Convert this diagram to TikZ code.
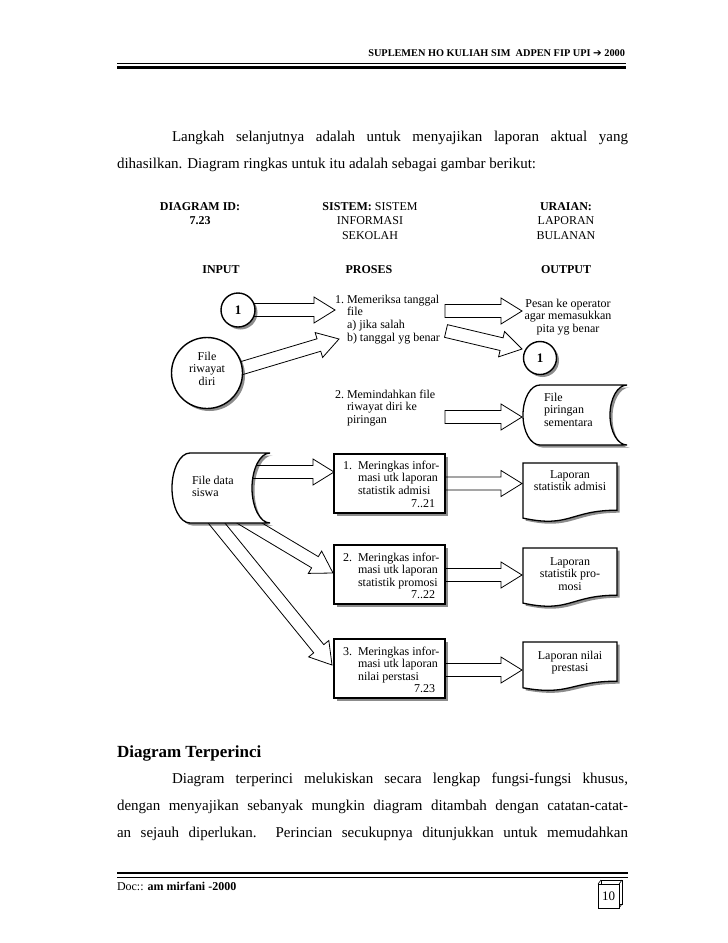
\documentclass[tikz,border=0pt]{standalone}
\usepackage{fontspec}
\setmainfont{Liberation Serif}
\newfontfamily\symfont{DejaVu Sans}
\usetikzlibrary{calc,shadows}
\newcommand{\dfont}{\fontsize{12}{12.7}\selectfont}
\newcommand{\hfontx}{\fontsize{12}{14.5}\selectfont}
\newcommand{\bodyfont}{\fontsize{15}{27}\selectfont}
\newcommand{\colc}[1]{\begin{tabular}[t]{@{}c@{}}#1\end{tabular}}
\newcommand{\coll}[1]{\begin{tabular}[t]{@{}l@{}}#1\end{tabular}}
\newcommand{\hang}[2]{\begin{tabular}[t]{@{}l@{\hspace{#1}}l@{}}#2\end{tabular}}
% block arrow between two named coordinates
\newcommand{\barrow}[2]{%
  \path ($(#2)!21pt!(#1)$) coordinate (hb);
  \draw[blockarr] ($(#1)!6.5pt!90:(#2)$) -- ($(hb)!6.5pt!90:(#2)$) -- ($(hb)!13pt!90:(#2)$) -- (#2)
    -- ($(hb)!13pt!-90:(#2)$) -- ($(hb)!6.5pt!-90:(#2)$) -- ($(#1)!6.5pt!-90:(#2)$) -- cycle;}
\tikzset{
  every node/.style={inner sep=0pt, outer sep=0pt},
  blockarr/.style={draw=black, fill=white, line width=0.8pt, line join=miter},
  sh/.style={drop shadow={shadow xshift=2.5pt, shadow yshift=-2.5pt, fill=black, opacity=0.45}},
  procbox/.style={draw, fill=white, line width=1.4pt, sh},
  shapeline/.style={draw, fill=white, line width=1.3pt, sh},
  circ/.style={circle, draw, fill=white, line width=1.4pt, sh, font=\fontsize{13}{13}\selectfont\bfseries},
  dtext/.style={font=\dfont},
}
\begin{document}
\begin{tikzpicture}[x=1pt,y=1pt]
\useasboundingbox (0,0) rectangle (728,-943);
\fill[white] (0,0) rectangle (728,-943);

% ---------- page header
\node[anchor=base east, font=\fontsize{10.3}{12}\selectfont\bfseries] (hdr) at (625,-56)
  {SUPLEMEN HO KULIAH SIM\ \ ADPEN FIP UPI {\symfont\bfseries ➔} 2000};
\draw[line width=0.8pt] (117,-63.5) -- (626,-63.5);
\draw[line width=2.6pt] (117,-67.5) -- (626,-67.5);

% ---------- paragraph 1
\node[anchor=base west] (par1) at (117,-141) {\parbox[t]{511pt}{\bodyfont
  \hspace*{55pt}Langkah selanjutnya adalah untuk menyajikan laporan aktual yang\linebreak
  dihasilkan. Diagram ringkas untuk itu adalah sebagai gambar berikut:}};

% ---------- diagram headings
\node[anchor=base, font=\hfontx\bfseries] (hid) at (200,-210) {\colc{DIAGRAM ID:\\7.23}};
\node[anchor=base, font=\hfontx] (hsis) at (370,-210) {\colc{\textbf{SISTEM:} SISTEM\\INFORMASI\\SEKOLAH}};
\node[anchor=base, font=\hfontx] (hur) at (566,-210) {\colc{\textbf{URAIAN:}\\LAPORAN\\BULANAN}};
\node[anchor=base, font=\hfontx\bfseries] (hin) at (221,-273.5) {INPUT};
\node[anchor=base, font=\hfontx\bfseries] (hpr) at (369,-273.5) {PROSES};
\node[anchor=base, font=\hfontx\bfseries] (hout) at (566,-273.5) {OUTPUT};

% ---------- arrow end points
\coordinate (a1s) at (240,-310);   \coordinate (a1e) at (335,-310);
\coordinate (a2s) at (222,-374);   \coordinate (a2e) at (339,-339);
\coordinate (a3s) at (445,-311);   \coordinate (a3e) at (522,-311);
\coordinate (a4s) at (446,-331);   \coordinate (a4e) at (522,-349);
\coordinate (a5s) at (445,-417);   \coordinate (a5e) at (522,-417);
\coordinate (a6s) at (248,-472);   \coordinate (a6e) at (334,-472);
\coordinate (a7s) at (236,-515);   \coordinate (a7e) at (333,-573);
\coordinate (a8s) at (210,-515);   \coordinate (a8e) at (332,-665);
\coordinate (a9s) at (445,-483.5); \coordinate (a9e) at (522,-483.5);
\coordinate (a10s) at (445,-575);  \coordinate (a10e) at (522,-575);
\coordinate (a11s) at (445,-670);  \coordinate (a11e) at (522,-670);

\barrow{a1s}{a1e}
\barrow{a2s}{a2e}
\barrow{a3s}{a3e}
\barrow{a4s}{a4e}
\barrow{a5s}{a5e}
\barrow{a6s}{a6e}
\barrow{a7s}{a7e}
\barrow{a8s}{a8e}
\barrow{a9s}{a9e}
\barrow{a10s}{a10e}
\barrow{a11s}{a11e}

% ---------- input shapes
\node[circ, minimum size=34pt] (c1) at (238,-310) {1};
\node[circle, draw, fill=white, line width=1.4pt, sh, minimum size=71pt] (frd) at (207,-373) {};
\node[anchor=base, font=\dfont] (frdt) at (207,-360) {\colc{File\\riwayat\\diri}};

\draw[shapeline] (190,-453) -- (270,-453) .. controls (260,-453) and (252,-469) .. (252,-488)
   .. controls (252,-507) and (260,-523) .. (270,-523) -- (190,-523)
   .. controls (180,-523) and (172,-507) .. (172,-488)
   .. controls (172,-469) and (180,-453) .. (190,-453) -- cycle;
\node[anchor=base west, font=\dfont] (fds) at (192,-484) {\coll{File data\\siswa}};

% ---------- process texts
\node[anchor=base west, dtext] (p1) at (335,-303) {\hang{3pt}{1. & Memeriksa tanggal\\ & file\\ & a) jika salah\\ & b) tanggal yg benar}};
\node[anchor=base west, dtext] (p2) at (335,-398) {\hang{3pt}{2. & Memindahkan file\\ & riwayat diri ke\\ & piringan}};

\node[procbox, anchor=north west, minimum width=111pt, minimum height=59pt] (b1) at (334,-454) {};
\node[procbox, anchor=north west, minimum width=111pt, minimum height=59pt] (b2) at (334,-545) {};
\node[procbox, anchor=north west, minimum width=111pt, minimum height=59pt] (b3) at (334,-639) {};
\node[anchor=base west, dtext] (b1t) at (343,-469) {\hang{6pt}{1. & Meringkas infor-\\ & masi utk laporan\\ & statistik admisi}};
\node[anchor=base east, dtext] (b1n) at (435,-507) {7..21};
\node[anchor=base west, dtext] (b2t) at (343,-561) {\hang{6pt}{2. & Meringkas infor-\\ & masi utk laporan\\ & statistik promosi}};
\node[anchor=base east, dtext] (b2n) at (435,-598.5) {7..22};
\node[anchor=base west, dtext] (b3t) at (343,-655) {\hang{6pt}{3. & Meringkas infor-\\ & masi utk laporan\\ & nilai perstasi}};
\node[anchor=base east, dtext] (b3n) at (435,-692.5) {7.23};

% ---------- outputs
\node[anchor=base, dtext] (pesan) at (568,-307) {\colc{Pesan ke operator\\agar memasukkan\\pita yg benar}};
\node[circ, minimum size=33pt] (c2) at (540,-358) {1};

\draw[shapeline] (540,-385) -- (627,-385) .. controls (617.6,-385) and (610,-398.4) .. (610,-415)
   .. controls (610,-431.6) and (617.6,-445) .. (627,-445) -- (540,-445)
   .. controls (530.6,-445) and (523,-431.6) .. (523,-415)
   .. controls (523,-398.4) and (530.6,-385) .. (540,-385) -- cycle;
\node[anchor=base west, dtext] (fps) at (544,-401) {\coll{File\\piringan\\sementara}};

\draw[shapeline] (523,-463) -- (617,-463) -- (617,-510.2) .. controls (570,-510.2) and (570,-528.3) .. (523,-518.1) -- cycle;
\node[anchor=base, dtext] (d1) at (570,-478) {\colc{Laporan\\statistik admisi}};
\draw[shapeline] (523,-548) -- (617,-548) -- (617,-595.2) .. controls (570,-595.2) and (570,-613.3) .. (523,-603.1) -- cycle;
\node[anchor=base, dtext] (d2) at (570,-565) {\colc{Laporan\\statistik pro-\\mosi}};
\draw[shapeline] (523,-642) -- (617,-642) -- (617,-681.2) .. controls (570,-681.2) and (570,-696.2) .. (523,-687.8) -- cycle;
\node[anchor=base, dtext] (d3) at (570,-659) {\colc{Laporan nilai\\prestasi}};

% ---------- second part of page
\node[anchor=base west, font=\fontsize{17}{19}\selectfont\bfseries] (dt) at (117,-757) {Diagram Terperinci};
\node[anchor=base west] (par2) at (117,-783) {\parbox[t]{511pt}{\bodyfont
  \hspace*{55pt}Diagram terperinci melukiskan secara lengkap fungsi-fungsi khusus,\linebreak
  dengan menyajikan sebanyak mungkin diagram ditambah dengan catatan-catat-\linebreak
  an sejauh diperlukan.\ \ Perincian secukupnya ditunjukkan untuk memudahkan{\parfillskip=0pt\par}}};

% ---------- footer
\draw[line width=2.8pt] (117,-873) -- (628,-873);
\draw[line width=0.8pt] (117,-877) -- (628,-877);
\node[anchor=base west, font=\fontsize{12}{14}\selectfont] (doc) at (117,-890) {Doc:: \textbf{am mirfani -2000}};
\draw[line width=0.8pt] (601,-880) rectangle (622,-904);
\draw[line width=0.8pt, fill=white] (598,-884) rectangle (619,-908);
\draw[line width=0.6pt] (598,-884) -- (601,-880) (619,-884) -- (622,-880) (619,-908) -- (622,-904);
\node[font=\fontsize{13}{13}\selectfont] (pg) at (608.5,-896) {10};
\end{tikzpicture}
\end{document}
